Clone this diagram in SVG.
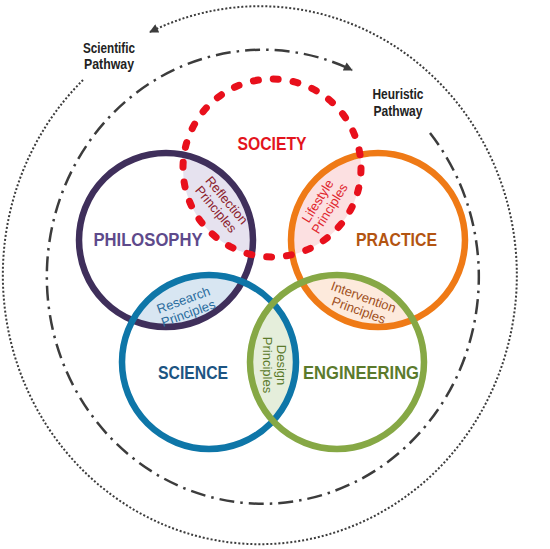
<svg xmlns="http://www.w3.org/2000/svg" width="550" height="549" viewBox="0 0 550 549">
<style>
.ring{fill:none;stroke-width:6.5}
.big{font-family:"Liberation Sans",Arial,sans-serif;font-weight:bold;font-size:18px;text-anchor:middle}
.small{font-family:"Liberation Sans",Arial,sans-serif;font-size:13px;text-anchor:middle}
.path-label{font-family:"Liberation Sans",Arial,sans-serif;font-weight:bold;font-size:14px;text-anchor:middle;fill:#222}
.conn{fill:none;stroke:#3c3c3c}
</style>
<defs>
<marker id="ah" viewBox="0 0 10 10" refX="9" refY="5" markerWidth="10" markerHeight="9" markerUnits="userSpaceOnUse" orient="auto">
<path d="M0,0 L10,5 L0,10 z" fill="#3c3c3c"/>
</marker>
<clipPath id="cPur"><circle cx="166" cy="240" r="87"/></clipPath>
<clipPath id="cOra"><circle cx="378" cy="240" r="87"/></clipPath>
<clipPath id="cBlu"><circle cx="209" cy="362" r="87"/></clipPath>
</defs>
<rect width="550" height="549" fill="#ffffff"/>

<g id="connectors">
<path class="conn" d="M83,80 A257,269 0 1 0 150,32" stroke-width="2" stroke-dasharray="2 2" marker-end="url(#ah)"/>
<path class="conn" d="M430,133 A216,227 0 1 1 352,70" stroke-width="2.5" stroke-dasharray="15 6 2.5 6" marker-end="url(#ah)"/>
</g>

<g id="lens-fills">
<circle cx="272" cy="168" r="89" fill="#e6e2ef" clip-path="url(#cPur)"/>
<circle cx="272" cy="168" r="89" fill="#fce0e1" clip-path="url(#cOra)"/>
<circle cx="209" cy="362" r="87" fill="#d8e6f2" clip-path="url(#cPur)"/>
<circle cx="337" cy="362" r="87" fill="#fdeadc" clip-path="url(#cOra)"/>
<circle cx="337" cy="362" r="87" fill="#e5eedb" clip-path="url(#cBlu)"/>
</g>

<g id="node-philosophy">
<circle class="ring" cx="166" cy="240" r="87" stroke="#3f2f5b"/>
<text class="big" x="148" y="246" fill="#5e4a8b" textLength="109" lengthAdjust="spacingAndGlyphs">PHILOSOPHY</text>
</g>
<g id="node-practice">
<circle class="ring" cx="378" cy="240" r="87" stroke="#ef7a16"/>
<text class="big" x="396.5" y="246" fill="#b35411" textLength="81" lengthAdjust="spacingAndGlyphs">PRACTICE</text>
</g>
<g id="node-science">
<circle class="ring" cx="209" cy="362" r="87" stroke="#0e76a8"/>
<text class="big" x="193" y="379" fill="#1c5482" textLength="70" lengthAdjust="spacingAndGlyphs">SCIENCE</text>
</g>
<g id="node-engineering">
<circle class="ring" cx="337" cy="362" r="87" stroke="#86a845"/>
<text class="big" x="361" y="379" fill="#5b7a2c" textLength="116" lengthAdjust="spacingAndGlyphs">ENGINEERING</text>
</g>
<g id="node-society">
<circle cx="272" cy="168" r="89" fill="none" stroke="#e8101c" stroke-width="7" stroke-linecap="round" stroke-dasharray="5 15"/>
<text class="big" x="272" y="150" fill="#e3141d" textLength="69" lengthAdjust="spacingAndGlyphs">SOCIETY</text>
</g>

<g id="label-reflection">
<text class="small" fill="#8c1c2c" transform="translate(221,205) rotate(50)"><tspan x="0" y="-3">Reflection</tspan><tspan x="0" y="11">Principles</tspan></text>
</g>
<g id="label-lifestyle">
<text class="small" fill="#e0262e" transform="translate(324,205) rotate(-58)"><tspan x="0" y="-3">Lifestyle</tspan><tspan x="0" y="11">Principles</tspan></text>
</g>
<g id="label-research">
<text class="small" fill="#2b6d9e" transform="translate(186,307) rotate(-20)"><tspan x="0" y="-3">Research</tspan><tspan x="0" y="11">Principles</tspan></text>
</g>
<g id="label-intervention">
<text class="small" fill="#a0501c" transform="translate(361,304) rotate(20)"><tspan x="0" y="-3">Intervention</tspan><tspan x="0" y="11">Principles</tspan></text>
</g>
<g id="label-design">
<text class="small" fill="#5b7a2b" transform="translate(274,365) rotate(90)"><tspan x="0" y="-3">Design</tspan><tspan x="0" y="11">Principles</tspan></text>
</g>

<g id="label-scientific">
<text class="path-label" x="109" y="53" textLength="52" lengthAdjust="spacingAndGlyphs">Scientific</text>
<text class="path-label" x="109" y="69" textLength="50" lengthAdjust="spacingAndGlyphs">Pathway</text>
</g>
<g id="label-heuristic">
<text class="path-label" x="398" y="99" textLength="51" lengthAdjust="spacingAndGlyphs">Heuristic</text>
<text class="path-label" x="398" y="116" textLength="49" lengthAdjust="spacingAndGlyphs">Pathway</text>
</g>
</svg>
